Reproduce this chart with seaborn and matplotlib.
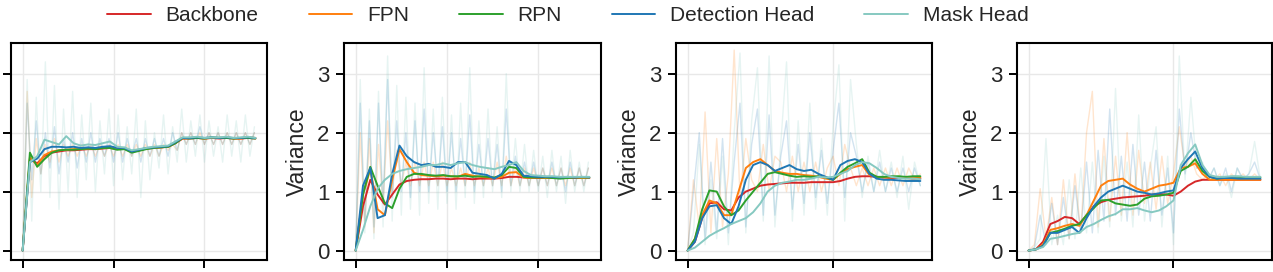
import numpy as np
import pandas as pd
import matplotlib
matplotlib.use("Agg")
import matplotlib.pyplot as plt
import seaborn as sns

series = ["Backbone", "FPN", "RPN", "Detection Head", "Mask Head"]
colors = ["#d62728", "#ff7f0e", "#2ca02c", "#1f77b4", "#86c9c1"]

# smoothed curves: panels 1-2 every 8 steps, panels 3-4 every 5 steps
x_long = list(range(0, 257, 8))
x_short = list(range(0, 161, 5))
# raw (noisy) curves: panels 1-2 every 5 steps, panels 3-4 every 4 steps
xr_long = list(range(0, 256, 5))
xr_short = list(range(0, 161, 4))

p1_backbone = [0, 1.55, 1.48, 1.6, 1.66, 1.68, 1.7, 1.7, 1.71, 1.72, 1.72, 1.73, 1.74, 1.72, 1.73, 1.68, 1.7, 1.73, 1.74, 1.75, 1.76, 1.82, 1.9, 1.9, 1.91, 1.9, 1.91, 1.9, 1.91, 1.9, 1.9, 1.91, 1.9]
p1_fpn = [0, 1.58, 1.45, 1.62, 1.68, 1.7, 1.71, 1.72, 1.72, 1.73, 1.73, 1.74, 1.75, 1.73, 1.73, 1.67, 1.7, 1.73, 1.74, 1.75, 1.76, 1.83, 1.9, 1.91, 1.91, 1.9, 1.91, 1.91, 1.92, 1.9, 1.9, 1.92, 1.91]
p1_rpn = [0, 1.66, 1.42, 1.55, 1.66, 1.7, 1.71, 1.71, 1.72, 1.73, 1.72, 1.74, 1.74, 1.71, 1.72, 1.66, 1.69, 1.72, 1.74, 1.75, 1.76, 1.82, 1.91, 1.9, 1.91, 1.9, 1.92, 1.91, 1.91, 1.9, 1.91, 1.91, 1.9]
p1_det = [0, 1.5, 1.56, 1.72, 1.76, 1.76, 1.75, 1.76, 1.74, 1.75, 1.74, 1.76, 1.77, 1.74, 1.74, 1.68, 1.71, 1.74, 1.75, 1.76, 1.77, 1.84, 1.91, 1.91, 1.92, 1.91, 1.92, 1.91, 1.92, 1.91, 1.91, 1.92, 1.91]
p1_mask = [0, 1.5, 1.6, 1.88, 1.84, 1.8, 1.94, 1.82, 1.78, 1.8, 1.79, 1.82, 1.85, 1.76, 1.75, 1.7, 1.72, 1.74, 1.76, 1.77, 1.78, 1.85, 1.92, 1.92, 1.93, 1.91, 1.92, 1.92, 1.93, 1.91, 1.92, 1.93, 1.91]

p2_backbone = [0, 0.75, 1.2, 0.95, 0.78, 0.95, 1.12, 1.18, 1.2, 1.21, 1.21, 1.22, 1.22, 1.21, 1.22, 1.22, 1.21, 1.22, 1.22, 1.22, 1.23, 1.25, 1.25, 1.24, 1.23, 1.23, 1.23, 1.23, 1.23, 1.23, 1.23, 1.23, 1.23]
p2_fpn = [0, 0.95, 1.38, 0.7, 0.6, 1.2, 1.72, 1.5, 1.32, 1.28, 1.27, 1.26, 1.27, 1.26, 1.25, 1.3, 1.27, 1.25, 1.24, 1.23, 1.25, 1.32, 1.33, 1.24, 1.23, 1.24, 1.23, 1.24, 1.23, 1.23, 1.24, 1.23, 1.23]
p2_rpn = [0, 0.95, 1.42, 1.1, 0.8, 0.72, 1.05, 1.25, 1.3, 1.3, 1.28, 1.27, 1.28, 1.26, 1.26, 1.27, 1.25, 1.26, 1.25, 1.24, 1.28, 1.42, 1.4, 1.25, 1.24, 1.24, 1.24, 1.23, 1.22, 1.23, 1.24, 1.24, 1.24]
p2_det = [0, 1.1, 1.4, 0.55, 0.6, 1.3, 1.78, 1.6, 1.5, 1.45, 1.47, 1.42, 1.42, 1.4, 1.5, 1.5, 1.32, 1.3, 1.28, 1.22, 1.3, 1.52, 1.45, 1.27, 1.26, 1.25, 1.25, 1.25, 1.24, 1.25, 1.24, 1.25, 1.24]
p2_mask = [0, 0.35, 0.75, 1.05, 1.2, 1.3, 1.35, 1.38, 1.4, 1.42, 1.45, 1.45, 1.48, 1.45, 1.48, 1.5, 1.45, 1.42, 1.4, 1.38, 1.42, 1.45, 1.5, 1.35, 1.28, 1.27, 1.26, 1.26, 1.25, 1.25, 1.25, 1.25, 1.25]

p3_backbone = [0, 0.15, 0.55, 0.8, 0.82, 0.7, 0.68, 0.9, 1.0, 1.05, 1.1, 1.12, 1.13, 1.14, 1.15, 1.15, 1.15, 1.16, 1.16, 1.16, 1.16, 1.18, 1.22, 1.25, 1.26, 1.26, 1.25, 1.24, 1.23, 1.23, 1.23, 1.22, 1.22]
p3_fpn = [0, 0.2, 0.6, 0.85, 0.8, 0.6, 0.6, 1.0, 1.4, 1.5, 1.55, 1.45, 1.35, 1.32, 1.3, 1.3, 1.28, 1.27, 1.25, 1.22, 1.2, 1.3, 1.38, 1.42, 1.45, 1.28, 1.25, 1.24, 1.24, 1.25, 1.24, 1.24, 1.24]
p3_rpn = [0, 0.2, 0.7, 1.02, 1.0, 0.75, 0.6, 0.68, 0.85, 1.0, 1.15, 1.3, 1.33, 1.3, 1.27, 1.25, 1.26, 1.25, 1.26, 1.24, 1.2, 1.32, 1.42, 1.48, 1.55, 1.32, 1.25, 1.25, 1.26, 1.26, 1.25, 1.26, 1.26]
p3_det = [0, 0.15, 0.55, 0.75, 0.77, 0.55, 0.45, 0.75, 1.2, 1.45, 1.5, 1.45, 1.35, 1.4, 1.45, 1.38, 1.35, 1.37, 1.3, 1.25, 1.2, 1.45, 1.52, 1.55, 1.5, 1.3, 1.22, 1.2, 1.2, 1.19, 1.18, 1.18, 1.18]
p3_mask = [0, 0.05, 0.15, 0.25, 0.32, 0.38, 0.45, 0.5, 0.55, 0.65, 0.8, 1.0, 1.1, 1.15, 1.17, 1.2, 1.2, 1.22, 1.25, 1.24, 1.25, 1.3, 1.35, 1.45, 1.5, 1.48, 1.4, 1.3, 1.25, 1.23, 1.22, 1.22, 1.21]

p4_backbone = [0, 0.02, 0.15, 0.45, 0.5, 0.57, 0.55, 0.45, 0.6, 0.75, 0.82, 0.86, 0.88, 0.9, 0.91, 0.92, 0.93, 0.95, 0.96, 0.95, 0.93, 1.0, 1.1, 1.17, 1.2, 1.2, 1.2, 1.2, 1.2, 1.2, 1.2, 1.2, 1.2]
p4_fpn = [0, 0.02, 0.1, 0.35, 0.38, 0.42, 0.45, 0.42, 0.6, 0.85, 1.1, 1.18, 1.2, 1.22, 1.12, 1.05, 1.0, 1.05, 1.1, 1.12, 1.15, 1.4, 1.42, 1.48, 1.3, 1.2, 1.2, 1.2, 1.2, 1.2, 1.2, 1.2, 1.2]
p4_rpn = [0, 0.02, 0.08, 0.3, 0.33, 0.37, 0.42, 0.45, 0.6, 0.72, 0.85, 0.86, 0.8, 0.78, 0.76, 0.78, 0.88, 0.92, 0.93, 0.95, 0.98, 1.35, 1.42, 1.55, 1.35, 1.25, 1.22, 1.24, 1.25, 1.25, 1.24, 1.24, 1.24]
p4_det = [0, 0.02, 0.08, 0.3, 0.3, 0.35, 0.4, 0.3, 0.55, 0.75, 0.9, 1.0, 1.05, 1.1, 1.05, 1.0, 0.98, 0.95, 0.97, 1.0, 1.02, 1.4, 1.55, 1.68, 1.4, 1.25, 1.22, 1.23, 1.23, 1.22, 1.22, 1.22, 1.22]
p4_mask = [0, 0.02, 0.06, 0.2, 0.22, 0.25, 0.28, 0.3, 0.4, 0.45, 0.52, 0.58, 0.62, 0.7, 0.7, 0.72, 0.68, 0.65, 0.68, 0.75, 0.85, 1.45, 1.65, 1.8, 1.45, 1.28, 1.25, 1.25, 1.26, 1.26, 1.25, 1.25, 1.25]

# raw values (FPN, Detection Head, Mask Head)
p1_raw_fpn = [0, 2.7, 0.9, 1.9, 1.3, 1.8, 1.5, 1.9, 1.5, 1.8, 1.6, 1.8, 1.6, 1.8, 1.6, 1.8, 1.6, 1.8, 1.6, 1.8, 1.6, 1.8, 1.6, 1.8, 1.6, 1.8, 1.6, 1.8, 1.6, 1.8, 1.6, 1.8, 1.7, 1.8, 1.7, 2.0, 1.8, 2.0, 1.8, 2.0, 1.8, 2.0, 1.8, 2.0, 1.8, 2.0, 1.8, 2.0, 1.8, 2.0, 1.8, 2.0]
p1_raw_det = [0, 2.5, 1.2, 2.2, 1.3, 2.0, 1.4, 2.1, 1.3, 1.9, 1.5, 2.0, 1.4, 1.9, 1.5, 2.0, 1.5, 1.9, 1.6, 1.9, 1.5, 2.0, 1.5, 1.9, 1.6, 1.9, 1.5, 1.9, 1.6, 1.9, 1.6, 1.9, 1.6, 2.0, 1.7, 2.0, 1.8, 2.0, 1.8, 2.1, 1.8, 2.0, 1.8, 2.0, 1.8, 2.0, 1.8, 2.0, 1.8, 2.0, 1.8, 2.0]
p1_raw_mask = [0, 2.9, 0.5, 2.6, 1.0, 3.2, 0.9, 2.8, 0.7, 2.4, 1.0, 2.7, 0.9, 2.3, 1.2, 2.5, 1.0, 2.2, 1.3, 2.4, 1.1, 2.3, 1.2, 2.1, 1.3, 2.4, 0.9, 2.2, 1.2, 2.0, 1.4, 2.3, 1.3, 2.1, 1.5, 2.4, 1.5, 2.2, 1.6, 2.3, 1.5, 2.2, 1.6, 2.1, 1.5, 2.3, 1.6, 2.2, 1.5, 2.3, 1.6, 2.1]

p2_raw_fpn = [0, 2.0, 0.4, 1.9, 0.3, 1.8, 0.8, 2.2, 1.0, 1.7, 1.1, 1.5, 1.1, 1.5, 1.1, 1.5, 1.1, 1.5, 1.1, 1.5, 1.1, 1.4, 1.1, 1.4, 1.1, 1.5, 1.1, 1.4, 1.1, 1.4, 1.1, 1.5, 1.1, 1.6, 1.1, 1.4, 1.1, 1.4, 1.1, 1.4, 1.1, 1.4, 1.1, 1.4, 1.1, 1.4, 1.1, 1.4, 1.1, 1.4, 1.1, 1.4]
p2_raw_det = [0, 2.5, 0.5, 2.2, 0.4, 2.5, 0.8, 2.9, 0.9, 2.2, 1.0, 2.0, 0.9, 2.2, 1.0, 2.4, 1.0, 2.0, 1.1, 2.1, 1.0, 2.0, 1.0, 1.9, 1.1, 2.3, 1.0, 1.8, 1.1, 1.9, 1.1, 1.8, 1.0, 2.4, 1.1, 1.6, 1.1, 1.5, 1.1, 1.5, 1.1, 1.4, 1.1, 1.5, 1.1, 1.4, 1.0, 1.5, 1.1, 1.4, 1.1, 1.4]
p2_raw_mask = [0, 2.9, 0.3, 2.4, 0.2, 2.7, 0.4, 3.3, 0.5, 2.8, 0.6, 2.6, 0.7, 2.5, 0.6, 3.1, 0.8, 2.4, 0.7, 2.6, 0.8, 2.3, 0.7, 2.5, 0.9, 3.1, 0.8, 2.2, 0.9, 2.4, 1.0, 2.1, 0.9, 3.0, 1.0, 1.9, 1.0, 1.8, 1.0, 1.7, 1.0, 1.6, 0.9, 1.7, 1.0, 1.6, 0.8, 1.7, 1.0, 1.5, 1.0, 1.5]

p3_raw_fpn = [0, 1.2, 0.4, 2.35, 0.3, 1.9, 0.4, 1.3, 3.4, 0.9, 1.9, 1.2, 1.0, 1.8, 1.0, 1.6, 1.5, 1.0, 1.6, 1.0, 1.5, 1.0, 1.5, 1.0, 1.4, 1.6, 1.1, 1.8, 1.4, 1.1, 1.4, 1.1, 1.4, 1.1, 1.4, 1.1, 1.4, 1.1, 1.4, 1.2, 1.3]
p3_raw_det = [0, 1.0, 2.0, 0.2, 1.5, 0.3, 1.9, 0.3, 1.5, 2.5, 0.4, 1.8, 2.4, 0.6, 2.3, 0.6, 1.6, 2.2, 0.7, 1.8, 0.8, 2.0, 0.9, 1.7, 0.8, 1.7, 2.5, 0.9, 2.0, 1.6, 1.0, 1.5, 1.0, 1.5, 1.0, 1.4, 1.0, 1.4, 1.0, 1.4, 1.1]
p3_raw_mask = [0, 0.3, 1.8, 0.1, 1.2, 0.2, 1.6, 0.1, 2.0, 3.35, 0.3, 2.2, 3.1, 0.5, 3.3, 0.4, 1.8, 3.2, 0.5, 2.2, 0.6, 2.5, 0.7, 1.9, 0.6, 2.1, 3.15, 0.5, 2.9, 1.8, 0.9, 1.6, 1.0, 1.7, 1.0, 1.5, 0.9, 1.6, 0.7, 1.5, 1.1]

p4_raw_fpn = [0, 0.1, 1.05, 0.2, 0.9, 0.1, 1.2, 0.2, 1.3, 0.3, 2.0, 2.7, 0.4, 1.9, 0.5, 1.6, 0.6, 2.0, 0.6, 1.7, 0.8, 1.5, 0.7, 1.6, 0.8, 1.3, 2.1, 1.4, 1.6, 1.3, 1.2, 1.3, 1.2, 1.3, 1.1, 1.3, 1.2, 1.3, 1.2, 1.3, 1.2]
p4_raw_det = [0, 0.05, 0.6, 0.1, 0.8, 0.1, 0.9, 0.2, 1.1, 0.3, 1.5, 0.3, 1.7, 0.5, 2.4, 0.6, 1.6, 0.5, 1.8, 0.6, 1.5, 0.5, 1.7, 0.6, 1.4, 0.3, 2.4, 1.3, 2.0, 1.4, 1.4, 1.2, 1.4, 1.1, 1.4, 1.0, 1.4, 1.2, 1.3, 1.5, 1.2]
p4_raw_mask = [0, 0.05, 0.2, 1.9, 0.1, 0.6, 0.1, 1.2, 0.2, 1.4, 0.3, 1.5, 0.3, 1.6, 0.4, 2.75, 0.5, 1.5, 0.4, 2.3, 0.5, 1.4, 2.1, 0.4, 1.6, 0.1, 3.3, 1.2, 2.6, 1.4, 1.5, 1.2, 1.4, 1.1, 1.3, 0.9, 1.4, 1.2, 1.3, 1.85, 1.2]

panels = [
    (x_long, [p1_backbone, p1_fpn, p1_rpn, p1_det, p1_mask], xr_long, [p1_raw_fpn, p1_raw_det, p1_raw_mask], [0, 100, 200]),
    (x_long, [p2_backbone, p2_fpn, p2_rpn, p2_det, p2_mask], xr_long, [p2_raw_fpn, p2_raw_det, p2_raw_mask], [0, 100, 200]),
    (x_short, [p3_backbone, p3_fpn, p3_rpn, p3_det, p3_mask], xr_short, [p3_raw_fpn, p3_raw_det, p3_raw_mask], [0, 100]),
    (x_short, [p4_backbone, p4_fpn, p4_rpn, p4_det, p4_mask], xr_short, [p4_raw_fpn, p4_raw_det, p4_raw_mask], [0, 100]),
]
raw_colors = [colors[1], colors[3], colors[4]]

sns.set_style("ticks")
plt.rcParams["font.family"] = ["Liberation Sans", "DejaVu Sans"]

W, H = 1273, 272
fig = plt.figure(figsize=(W / 100, H / 100), dpi=100)
lefts = [11, 344, 676, 1017]
widths = [256, 257, 256, 255]
top_px, bot_px = 43, 260

handles = []
for i, (xs, ys, xr, raws, xt) in enumerate(panels):
    ax = fig.add_axes([lefts[i] / W, (H - bot_px) / H, widths[i] / W, (bot_px - top_px) / H])
    for c, r in zip(raw_colors, raws):
        sns.lineplot(x=xr, y=r, ax=ax, color=c, lw=1.0, alpha=0.2)
    for name, c, y in zip(series, colors, ys):
        sns.lineplot(x=xs, y=y, ax=ax, color=c, lw=1.4, label=name if i == 0 else None)
    if ax.get_legend():
        ax.get_legend().remove()
    ax.set_ylim(-0.16, 3.52)
    ax.set_yticks([0, 1, 2, 3])
    ax.set_xticks(xt)
    ax.set_xticklabels([])
    ax.grid(True, color="#e8e8e8", lw=1.0)
    ax.set_axisbelow(True)
    for s in ax.spines.values():
        s.set_color("black")
        s.set_linewidth(1.5)
    ax.tick_params(axis="both", length=5.5, width=1.4, color="black", labelsize=16, pad=5)
    if i == 0:
        ax.set_yticklabels([])
        handles = ax.get_lines()[len(raws):]
    else:
        ax.set_ylabel("Variance", fontsize=16.5, labelpad=6)

fig.legend(handles, series, loc="center", bbox_to_anchor=(0.446, 1 - 16 / H), ncol=5,
           frameon=False, fontsize=15, handlelength=2.1, handletextpad=0.7, columnspacing=2.4)

fig.savefig("out.png", dpi=100)
